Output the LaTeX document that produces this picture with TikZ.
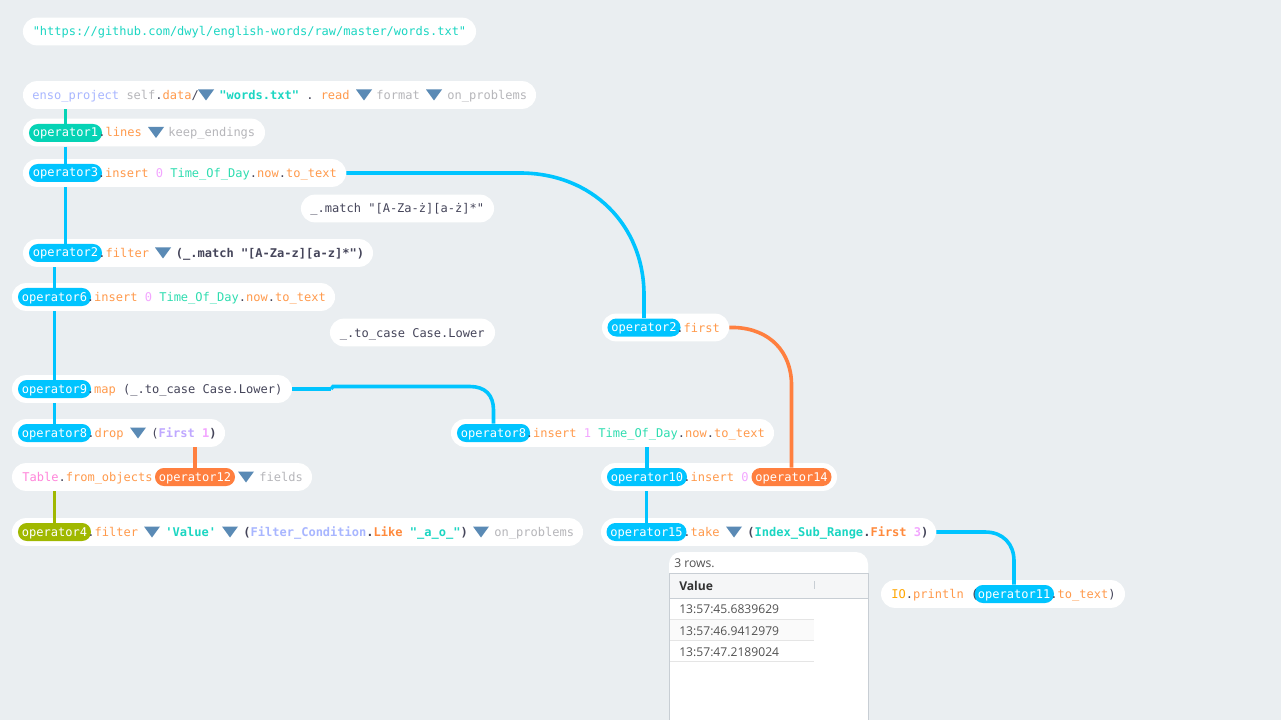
\documentclass[tikz,border=0pt]{standalone}
\usepackage{fontspec}
\setmonofont{DejaVu Sans Mono}
\newfontfamily\tablefont{Open Sans}
\usetikzlibrary{positioning, arrows.meta}
\definecolor{canvas}{HTML}{EAEEF1}
\definecolor{wirecyan}{HTML}{00C4FF}
\definecolor{wireteal}{HTML}{05D3B5}
\definecolor{wireorange}{HTML}{FF7F3F}
\definecolor{wireolive}{HTML}{A0B800}
\definecolor{arrowblue}{HTML}{5A8AB5}
\definecolor{mthcol}{HTML}{FF9A4C}
\definecolor{typcol}{HTML}{2FDDB0}
\definecolor{nbrcol}{HTML}{F3A6FF}
\definecolor{optcol}{HTML}{B6B6BA}
\definecolor{pnccol}{HTML}{45455A}
\definecolor{strcol}{HTML}{1BD6C2}
\definecolor{libcol}{HTML}{A8B6FF}
\definecolor{tblcol}{HTML}{FF85DA}
\definecolor{conscol}{HTML}{BFA8FF}
\definecolor{likecol}{HTML}{FF8A3C}
\definecolor{headcol}{HTML}{F5F6F7}
\definecolor{linecol}{HTML}{C8CED4}
\newcommand{\mth}[1]{\textcolor{mthcol}{#1}}
\newcommand{\typ}[1]{\textcolor{typcol}{#1}}
\newcommand{\nbr}[1]{\textcolor{nbrcol}{#1}}
\newcommand{\opt}[1]{\textcolor{optcol}{#1}}
\newcommand{\str}[1]{\textcolor{strcol}{#1}}
\newcommand{\lib}[1]{\textcolor{libcol}{#1}}
\newcommand{\cns}[1]{\textcolor{conscol}{#1}}
\pgfdeclarelayer{rows}
\pgfdeclarelayer{wires}
\pgfsetlayers{rows,wires,main}
\tikzset{
  rowpill/.style={fill=white, rounded corners=10.4pt, minimum height=20.8pt, inner sep=0pt},
  oppill/.style={fill=#1, text=white, rounded corners=6.7pt, minimum height=13.5pt, inner sep=0pt,
    minimum width=54.8pt, text height=8pt, text depth=2pt, font=\ttfamily\fontsize{9.03pt}{11pt}\selectfont},
  longpill/.style={oppill=#1, minimum width=60pt},
  code/.style={anchor=base west, inner sep=0pt, text=pnccol, font=\ttfamily\fontsize{9.03pt}{11pt}\selectfont},
  wire/.style={draw=#1, line width=2.7pt},
  ddn/.pic={\fill[arrowblue] (-8,-5.5) -- (8,-5.5) -- (0,5.5) -- cycle;},
  cell/.style={anchor=base west, inner sep=0pt, text=black!68, font=\tablefont\fontsize{9.1pt}{11pt}\selectfont}
}
\begin{document}
\begin{tikzpicture}[x=0.75pt, y=-0.75pt]
  \useasboundingbox (0,0) rectangle (1281,720);
  \begin{pgfonlayer}{rows}
    \fill[canvas] (0,0) rectangle (1281,720);
    \node[rowpill, minimum width=339.8pt] (r0) at (249.5,31.5) {};
    \node[rowpill, minimum width=384.8pt] (r1) at (279.5,95) {};
    \node[rowpill, minimum width=181.5pt] (r2) at (144,132.5) {};
    \node[rowpill, minimum width=242.3pt] (r3) at (184.5,173) {};
    \node[rowpill, minimum width=144.8pt] (r4) at (397.5,208.5) {};
    \node[rowpill, minimum width=262.5pt] (r5) at (198,253) {};
    \node[rowpill, minimum width=242.3pt] (r6) at (173.5,297) {};
    \node[rowpill, minimum width=123.8pt] (r7) at (412.5,332.5) {};
    \node[rowpill, minimum width=210pt] (r8) at (152,389) {};
    \node[rowpill, minimum width=159.8pt] (r9) at (118.5,433) {};
    \node[rowpill, minimum width=225pt] (r10) at (162,477) {};
    \node[rowpill, minimum width=428.3pt] (r11) at (297.5,532) {};
    \node[rowpill, minimum width=95.3pt] (r12) at (665.5,327.5) {};
    \node[rowpill, minimum width=242.3pt] (r13) at (612.5,433) {};
    \node[rowpill, minimum width=177pt] (r14) at (719,477) {};
    \node[rowpill, minimum width=251.3pt] (r15) at (768.5,532) {};
    \node[rowpill, minimum width=183pt] (r16) at (1003,594) {};
  \end{pgfonlayer}

  \node[oppill=wireteal] (op1) at (65.5,133) {operator1};
  \node[oppill=wirecyan] (op3) at (65.5,173) {operator3};
  \node[oppill=wirecyan] (op2) at (65.5,253) {operator2};
  \node[oppill=wirecyan] (op6) at (54.5,297) {operator6};
  \node[oppill=wirecyan] (op9) at (54.5,389) {operator9};
  \node[oppill=wirecyan] (op8) at (54.5,433) {operator8};
  \node[longpill=wireorange] (op12) at (195,477) {operator12};
  \node[oppill=wireolive] (op4) at (54.5,532) {operator4};
  \node[oppill=wirecyan] (op2b) at (644,327.5) {operator2};
  \node[oppill=wirecyan] (op8b) at (493.5,433) {operator8};
  \node[longpill=wirecyan] (op10) at (647,477) {operator10};
  \node[longpill=wireorange] (op14) at (791.5,477) {operator14};
  \node[longpill=wirecyan] (op15) at (646.5,532) {operator15};
  \node[longpill=wirecyan] (op11) at (1014,594) {operator11};

  \node[code, font=\ttfamily\fontsize{9.0pt}{11pt}\selectfont] (t0) at (32.5,35.5) {\str{"https://github.com/dwyl/english-words/raw/master/words.txt"}};
  \node[code] (t1a) at (32,99.5) {\lib{enso\_project} \opt{self}.\mth{data}/};
  \pic at (206,95) {ddn};
  \node[code] (t1b) at (219,99.5) {\str{\bfseries "words.txt"} . \mth{read}};
  \pic at (364,95) {ddn};
  \node[code] (t1c) at (376,99.5) {\opt{format}};
  \pic at (434,95) {ddn};
  \node[code] (t1d) at (447,99.5) {\opt{on\_problems}};
  \node[code] (t2a) at (98,137) {.\mth{lines}};
  \pic at (156,132.5) {ddn};
  \node[code] (t2b) at (168,137) {\opt{keep\_endings}};
  \node[code] (t3) at (97.5,177.5) {.\mth{insert} \nbr{0} \typ{Time\_Of\_Day}.\mth{now}.\mth{to\_text}};
  \node[code] (t4) at (310,213) {\_.match "[A-Za-ż][a-ż]*"};
  \node[code] (t5a) at (98,257.5) {.\mth{filter}};
  \pic at (163,253) {ddn};
  \node[code] (t5b) at (175.5,257.5) {\bfseries (\_.match "[A-Za-z][a-z]*")};
  \node[code] (t6) at (86.5,301.5) {.\mth{insert} \nbr{0} \typ{Time\_Of\_Day}.\mth{now}.\mth{to\_text}};
  \node[code] (t7) at (339.5,337) {\_.to\_case Case.Lower};
  \node[code] (t8) at (86.5,393.5) {.\mth{map} (\_.to\_case Case.Lower)};
  \node[code] (t9a) at (87,437.5) {.\mth{drop}};
  \pic at (138,433) {ddn};
  \node[code] (t9b) at (151,437.5) {(\cns{\bfseries First} \nbr{\bfseries 1}{\bfseries )}};
  \node[code] (t10a) at (22,481.5) {\textcolor{tblcol}{Table}.\mth{from\_objects}};
  \pic at (246,477) {ddn};
  \node[code] (t10b) at (259,481.5) {\opt{fields}};
  \node[code] (t11a) at (87,536.5) {.\mth{filter}};
  \pic at (152,532) {ddn};
  \node[code] (t11b) at (165,536.5) {\str{\bfseries 'Value'}};
  \pic at (230,532) {ddn};
  \node[code] (t11c) at (243,536.5) {\bfseries (\textcolor{libcol}{Filter\_Condition}.\textcolor{likecol}{Like} \str{"\_a\_o\_"})};
  \pic at (481,532) {ddn};
  \node[code] (t11d) at (494,536.5) {\opt{on\_problems}};
  \node[code] (t12) at (676,332) {.\mth{first}};
  \node[code] (t13) at (525.5,437.5) {.\mth{insert} \nbr{1} \typ{Time\_Of\_Day}.\mth{now}.\mth{to\_text}};
  \node[code] (t14) at (683,481.5) {.\mth{insert} \nbr{0}};
  \node[code] (t15a) at (683,536.5) {.\mth{take}};
  \pic at (734,532) {ddn};
  \node[code] (t15b) at (747,536.5) {\bfseries (\str{Index\_Sub\_Range}.\textcolor{likecol}{First} \nbr{3})};
  \node[code] (t16a) at (891,598.5) {\textcolor{orange!70!yellow}{IO}.\mth{println} (};
  \node[code] (t16b) at (1050,598.5) {.\mth{to\_text})};

  \begin{pgfonlayer}{wires}
    \draw[wire=wireteal] (r1.south -| op1.north) -- (op1.north);
    \draw[wire=wirecyan] (r2.south -| op3.north) -- (op3.north);
    \draw[wire=wirecyan] (r3.south -| op2.north) -- (op2.north);
    \draw[wire=wirecyan] (r5.south -| op6.north) -- (op6.north);
    \draw[wire=wirecyan] (r6.south -| op9.north) -- (op9.north);
    \draw[wire=wirecyan] (r8.south -| op8.north) -- (op8.north);
    \draw[wire=wireorange] (r9.south -| op12.north) -- (op12.north);
    \draw[wire=wireolive] (r10.south -| op4.north) -- (op4.north);
    \draw[wire=wirecyan] (r13.south -| op10.north) -- (op10.north);
    \draw[wire=wirecyan] (r14.south -| op15.north) -- (op15.north);
    \draw[wire=wirecyan] (r3.east) -- (520,173) .. controls (592,173) and (644,225) .. (644,295) -- (op2b.north);
    \draw[wire=wireorange] (r12.east) -- (735,327.5) .. controls (770,329) and (791.5,352) .. (791.5,385) -- (op14.north);
    \draw[wire=wirecyan, line width=3.4pt] (r8.east) -- (331,389);
    \draw[wire=wirecyan] (331,389) -- (333,386.5) -- (470,386.5) .. controls (485,386.5) and (493.5,395) .. (493.5,410) -- (op8b.north);
    \draw[wire=wirecyan] (r15.east) -- (985,532) .. controls (1003,532) and (1014,544) .. (1014,561) -- (op11.north);
  \end{pgfonlayer}

  \fill[white, rounded corners=9pt] (669,720) -- (669,552) -- (868,552) -- (868,720);
  \draw[linecol] (669,573) -- (669,720);
  \draw[linecol] (868,573) -- (868,720);
  \fill[headcol] (670,573.5) rectangle (867.5,598);
  \draw[linecol] (670,573) -- (867.5,573);
  \draw[linecol] (670,598) -- (867.5,598);
  \draw[linecol] (814,581) -- (814,589);
  \fill[black!2] (670,619.5) rectangle (814,640);
  \draw[black!10] (670,619) -- (814,619);
  \draw[black!10] (670,640) -- (814,640);
  \draw[black!10] (670,661) -- (814,661);
  \node[cell] (count) at (674,567.5) {3 rows.};
  \node[cell, text=black!80] (head) at (679,590.5) {\bfseries Value};
  \node[cell] (v1) at (679,613) {13:57:45.6839629};
  \node[cell] (v2) at (679,635) {13:57:46.9412979};
  \node[cell] (v3) at (679,656) {13:57:47.2189024};
\end{tikzpicture}
\end{document}
